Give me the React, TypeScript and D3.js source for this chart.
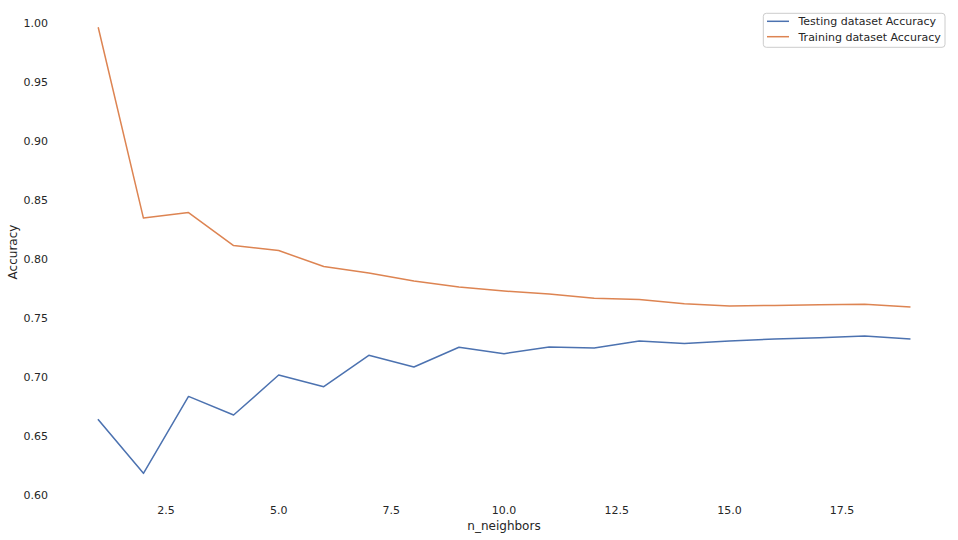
import React from "react";
import * as d3 from "d3";

const neighbors = [1, 2, 3, 4, 5, 6, 7, 8, 9, 10, 11, 12, 13, 14, 15, 16, 17, 18, 19];
const testAcc = [0.6638, 0.6184, 0.6836, 0.6678, 0.7017, 0.6918, 0.7184, 0.7085, 0.7252, 0.7198, 0.7254, 0.7246, 0.7305, 0.7285, 0.7305, 0.7322, 0.7333, 0.7347, 0.7322];
const trainAcc = [0.9958, 0.8347, 0.8394, 0.8114, 0.8072, 0.7936, 0.7881, 0.7814, 0.7763, 0.7729, 0.7703, 0.7667, 0.7658, 0.7621, 0.7602, 0.7607, 0.7613, 0.7616, 0.7593];
const xTicks = [2.5, 5.0, 7.5, 10.0, 12.5, 15.0, 17.5];
const yTicks = [0.6, 0.65, 0.7, 0.75, 0.8, 0.85, 0.9, 0.95, 1.0];
const seriesNames = ["Testing dataset Accuracy", "Training dataset Accuracy"];
const seriesColors = ["#4c72b0", "#dd8452"];

const W = 958;
const H = 540;
const font = "DejaVu Sans, sans-serif";
const textColor = "#262626";

export default function App() {
  const x = d3.scaleLinear().domain([0.1, 19.9]).range([57.8, 950.3]);
  const y = d3.scaleLinear().domain([0.5981, 1.0138]).range([497.3, 6.7]);
  const line = d3
    .line<number>()
    .x((_, i) => x(neighbors[i]))
    .y((d) => y(d));
  const series = [testAcc, trainAcc];

  return (
    <svg width={W} height={H} style={{ position: "absolute", left: 0, top: 0, background: "#fff" }}>
      <rect x={0} y={0} width={W} height={H} fill="#fff" />
      {yTicks.map((t) => (
        <text key={t} x={48} y={y(t)} dy="0.35em" textAnchor="end" fontFamily={font} fontSize={11} fill={textColor}>
          {t.toFixed(2)}
        </text>
      ))}
      {xTicks.map((t) => (
        <text key={t} x={x(t)} y={510} dy="0.35em" textAnchor="middle" fontFamily={font} fontSize={11} fill={textColor}>
          {t.toFixed(1)}
        </text>
      ))}
      <text x={504} y={526} dy="0.35em" textAnchor="middle" fontFamily={font} fontSize={12} fill={textColor}>
        n_neighbors
      </text>
      <text
        transform={`translate(13,${(6.7 + 497.3) / 2}) rotate(-90)`}
        dy="0.35em"
        textAnchor="middle"
        fontFamily={font}
        fontSize={12}
        fill={textColor}
      >
        Accuracy
      </text>
      {series.map((s, i) => (
        <path key={i} d={line(s) || ""} fill="none" stroke={seriesColors[i]} strokeWidth={1.5} strokeLinejoin="round" strokeLinecap="square" />
      ))}
      <g>
        <rect x={763.3} y={13.3} width={181.7} height={34} rx={3} fill="#fff" fillOpacity={0.8} stroke="#cccccc" strokeWidth={1} />
        {seriesNames.map((n, i) => (
          <g key={n}>
            <line x1={767} x2={789} y1={21.3 + i * 15.4} y2={21.3 + i * 15.4} stroke={seriesColors[i]} strokeWidth={1.5} />
            <text x={798.5} y={21.3 + i * 15.4} dy="0.35em" fontFamily={font} fontSize={11} fill={textColor}>
              {n}
            </text>
          </g>
        ))}
      </g>
    </svg>
  );
}
